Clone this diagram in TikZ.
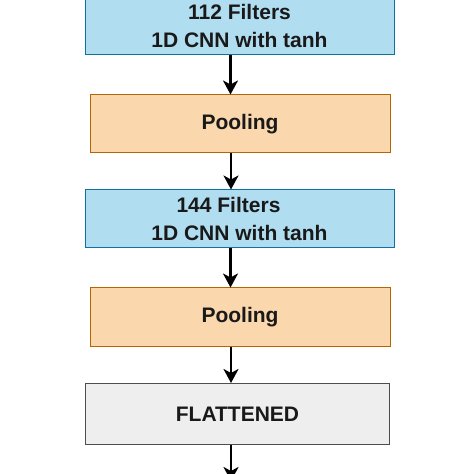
\documentclass[tikz,border=0pt]{standalone}
\usepackage{fontspec}
\setmainfont{Liberation Sans}
\usepackage{tikz}
\usetikzlibrary{arrows.meta}
\usetikzlibrary{positioning}
\tikzset{layer/.style = {draw, line width = 0.5pt, align = center, inner sep = 0,
    font = \fontsize{10.5}{14}\selectfont\bfseries, text = black!90}}
\tikzset{cnn/.style = {layer, fill = cnnfill, draw = cnnline, minimum width = 154.5pt, minimum height = 29pt}}
\tikzset{pool/.style = {layer, fill = poolfill, draw = poolline, minimum width = 150pt, minimum height = 29pt}}
\tikzset{flat/.style = {layer, fill = flatfill, draw = flatline, minimum width = 152pt, minimum height = 30.5pt}}
\tikzset{flow/.style = {-{Stealth[length = 7pt, width = 7.5pt, inset = 2pt]}, line width = 1.2pt}}
\definecolor{cnnfill}{HTML}{B1DDF0}
\definecolor{cnnline}{HTML}{10739E}
\definecolor{poolfill}{HTML}{FAD7AC}
\definecolor{poolline}{HTML}{B46504}
\definecolor{flatfill}{HTML}{EEEEEE}
\definecolor{flatline}{HTML}{4D4D4D}

\begin{document}
\begin{tikzpicture}[x = 0.5pt, y = -0.5pt]
    \useasboundingbox (0, 0) rectangle (474, 474);
    \clip (0, 0) rectangle (474, 474);

    \node [cnn] (conv1) at (239.5, 26) {112 Filters\\1D CNN with tanh};
    \node [pool] (pool1) at (240, 124) {Pooling};
    \node [cnn] (conv2) at (239.5, 219) {144 Filters\hspace*{11pt}\\1D CNN with tanh};
    \node [pool] (pool2) at (240, 317) {Pooling};
    \node [flat] (flat) at (237.5, 414) {FLATTENED};
    \coordinate (out) at (231, 481);

    \draw [flow] ([xshift = -4.5pt] conv1.south) -- ([xshift = -4.5pt] conv1.south |- pool1.north);
    \draw [flow] ([xshift = -4.5pt] pool1.south) -- ([xshift = -4.5pt] pool1.south |- conv2.north);
    \draw [flow] ([xshift = -4.5pt] conv2.south) -- ([xshift = -4.5pt] conv2.south |- pool2.north);
    \draw [flow] ([xshift = -4.5pt] pool2.south) -- ([xshift = -4.5pt] pool2.south |- flat.north);
    \draw [flow] (out |- flat.south) -- (out);
  \end{tikzpicture}
\end{document}
